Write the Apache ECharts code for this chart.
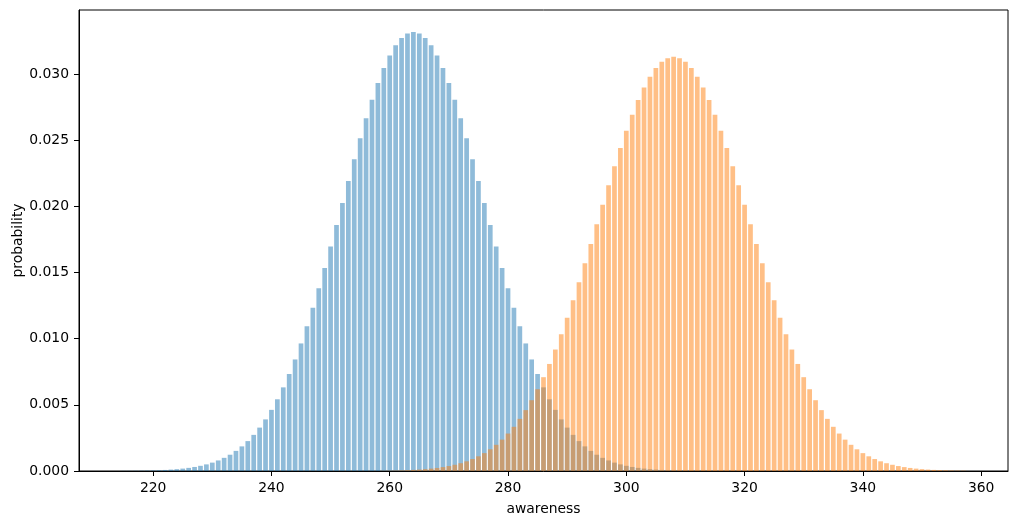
<!DOCTYPE html>
<html>
<head>
<meta charset="utf-8">
<script src="https://cdn.jsdelivr.net/npm/echarts@6/dist/echarts.min.js"></script>
<style>
html, body { margin: 0; padding: 0; background: #fff; }
#chart { width: 1019px; height: 525px; }
</style>
</head>
<body>
<div id="chart"></div>
<script>
var awareness = [
    215, 216, 217, 218, 219, 220, 221, 222, 223, 224,
    225, 226, 227, 228, 229, 230, 231, 232, 233, 234,
    235, 236, 237, 238, 239, 240, 241, 242, 243, 244,
    245, 246, 247, 248, 249, 250, 251, 252, 253, 254,
    255, 256, 257, 258, 259, 260, 261, 262, 263, 264,
    265, 266, 267, 268, 269, 270, 271, 272, 273, 274,
    275, 276, 277, 278, 279, 280, 281, 282, 283, 284,
    285, 286, 287, 288, 289, 290, 291, 292, 293, 294,
    295, 296, 297, 298, 299, 300, 301, 302, 303, 304,
    305, 306, 307, 308, 309, 310, 311, 312, 313, 314,
    315, 316, 317, 318, 319, 320, 321, 322, 323, 324,
    325, 326, 327, 328, 329, 330, 331, 332, 333, 334,
    335, 336, 337, 338, 339, 340, 341, 342, 343, 344,
    345, 346, 347, 348, 349, 350, 351, 352, 353, 354,
    355, 356, 357
];

// blue bars
var probA = [
    0.000009, 0.000012, 0.000017, 0.000024, 0.000032, 0.000044, 0.000059, 0.000079, 0.000105, 0.000138,
    0.000181, 0.000236, 0.000305, 0.000392, 0.000500, 0.000633, 0.000797, 0.000995, 0.00123, 0.00152,
    0.00186, 0.00226, 0.00273, 0.00328, 0.00390, 0.00462, 0.00542, 0.00632, 0.00733, 0.00843,
    0.00964, 0.01094, 0.01233, 0.01381, 0.01535, 0.01696, 0.01860, 0.02026, 0.02192, 0.02356,
    0.02514, 0.02665, 0.02805, 0.02933, 0.03046, 0.03141, 0.03217, 0.03273, 0.03307, 0.03318,
    0.03307, 0.03273, 0.03217, 0.03141, 0.03046, 0.02933, 0.02805, 0.02665, 0.02514, 0.02356,
    0.02192, 0.02026, 0.01860, 0.01696, 0.01535, 0.01381, 0.01233, 0.01094, 0.00964, 0.00843,
    0.00733, 0.00632, 0.00542, 0.00462, 0.00390, 0.00328, 0.00273, 0.00226, 0.00186, 0.00152,
    0.00123, 0.000995, 0.000797, 0.000633, 0.000500, 0.000392, 0.000305, 0.000236, 0.000181, 0.000138,
    0.000105, 0.000079, 0.000059, 0.000044, 0.000032, 0.000024, 0.000017, 0.000012, 0.000009, 0,
    0, 0, 0, 0, 0, 0, 0, 0, 0, 0,
    0, 0, 0, 0, 0, 0, 0, 0, 0, 0,
    0, 0, 0, 0, 0, 0, 0, 0, 0, 0,
    0, 0, 0, 0, 0, 0, 0, 0, 0, 0,
    0, 0, 0
];

// orange bars
var probB = [
    0, 0, 0, 0, 0, 0, 0, 0, 0, 0,
    0, 0, 0, 0, 0, 0, 0, 0, 0, 0,
    0, 0, 0, 0, 0, 0, 0, 0, 0, 0,
    0, 0, 0, 0, 0, 0, 0, 0, 0, 0,
    0, 0, 0, 0, 0.000020, 0.000027, 0.000036, 0.000048, 0.000063, 0.000083,
    0.000108, 0.000140, 0.000180, 0.000231, 0.000295, 0.000373, 0.000470, 0.000588, 0.000731, 0.000903,
    0.00111, 0.00135, 0.00164, 0.00198, 0.00237, 0.00283, 0.00334, 0.00394, 0.00460, 0.00535,
    0.00618, 0.00709, 0.00809, 0.00918, 0.01034, 0.01158, 0.01290, 0.01427, 0.01570, 0.01716,
    0.01864, 0.02012, 0.02159, 0.02303, 0.02441, 0.02572, 0.02693, 0.02803, 0.02899, 0.02980,
    0.03045, 0.03092, 0.03120, 0.03130, 0.03120, 0.03092, 0.03045, 0.02980, 0.02899, 0.02803,
    0.02693, 0.02572, 0.02441, 0.02303, 0.02159, 0.02012, 0.01864, 0.01716, 0.01570, 0.01427,
    0.01290, 0.01158, 0.01034, 0.00918, 0.00809, 0.00709, 0.00618, 0.00535, 0.00460, 0.00394,
    0.00334, 0.00283, 0.00237, 0.00198, 0.00164, 0.00135, 0.00111, 0.000903, 0.000731, 0.000588,
    0.000470, 0.000373, 0.000295, 0.000231, 0.000180, 0.000140, 0.000108, 0.000083, 0.000063, 0.000048,
    0.000036, 0.000027, 0.000020
];

var xTicks = [220, 240, 260, 280, 300, 320, 340, 360];
var yTicks = [0, 0.005, 0.010, 0.015, 0.020, 0.025, 0.030];

var myChart = echarts.init(document.getElementById('chart'));

var font = 'DejaVu Sans';
var axisText = { color: '#000', fontFamily: font, fontSize: 13.9 };

option = {
    animation: false,
    grid: {
        left: 79, right: 11, top: 10, bottom: 54,
        outerBoundsMode: 'none',
        show: true,
        borderColor: '#000',
        borderWidth: 1,
        backgroundColor: 'transparent'
    },
    xAxis: {
        type: 'value',
        min: 207.46,
        max: 364.54,
        z: 10,
        name: 'awareness',
        nameLocation: 'middle',
        nameGap: 31,
        nameMoveOverlap: false,
        nameTextStyle: axisText,
        axisLine: { show: true, lineStyle: { color: '#000', width: 1 } },
        axisTick: { show: true, length: 5, customValues: xTicks, lineStyle: { color: '#000', width: 1 } },
        axisLabel: Object.assign({ margin: 10, customValues: xTicks }, axisText),
        splitLine: { show: false }
    },
    yAxis: {
        type: 'value',
        min: 0,
        max: 0.03484,
        z: 10,
        name: 'probability',
        nameLocation: 'middle',
        nameGap: 54,
        nameMoveOverlap: false,
        nameTextStyle: axisText,
        axisLine: { show: true, lineStyle: { color: '#000', width: 1 } },
        axisTick: { show: true, length: 5, customValues: yTicks, lineStyle: { color: '#000', width: 1 } },
        axisLabel: Object.assign({
            margin: 10,
            customValues: yTicks,
            formatter: function (v) { return v.toFixed(3); }
        }, axisText),
        splitLine: { show: false }
    },
    series: [
        {
            name: 'A',
            type: 'bar',
            barWidth: 4.7,
            barGap: '-100%',
            itemStyle: { color: '#1f77b4', opacity: 0.5 },
            data: awareness.map(function (x, i) { return [x, probA[i]]; })
        },
        {
            name: 'B',
            type: 'bar',
            barWidth: 4.7,
            barGap: '-100%',
            itemStyle: { color: '#ff7f0e', opacity: 0.5 },
            data: awareness.map(function (x, i) { return [x, probB[i]]; })
        }
    ]
};

myChart.setOption(option);
</script>
</body>
</html>
